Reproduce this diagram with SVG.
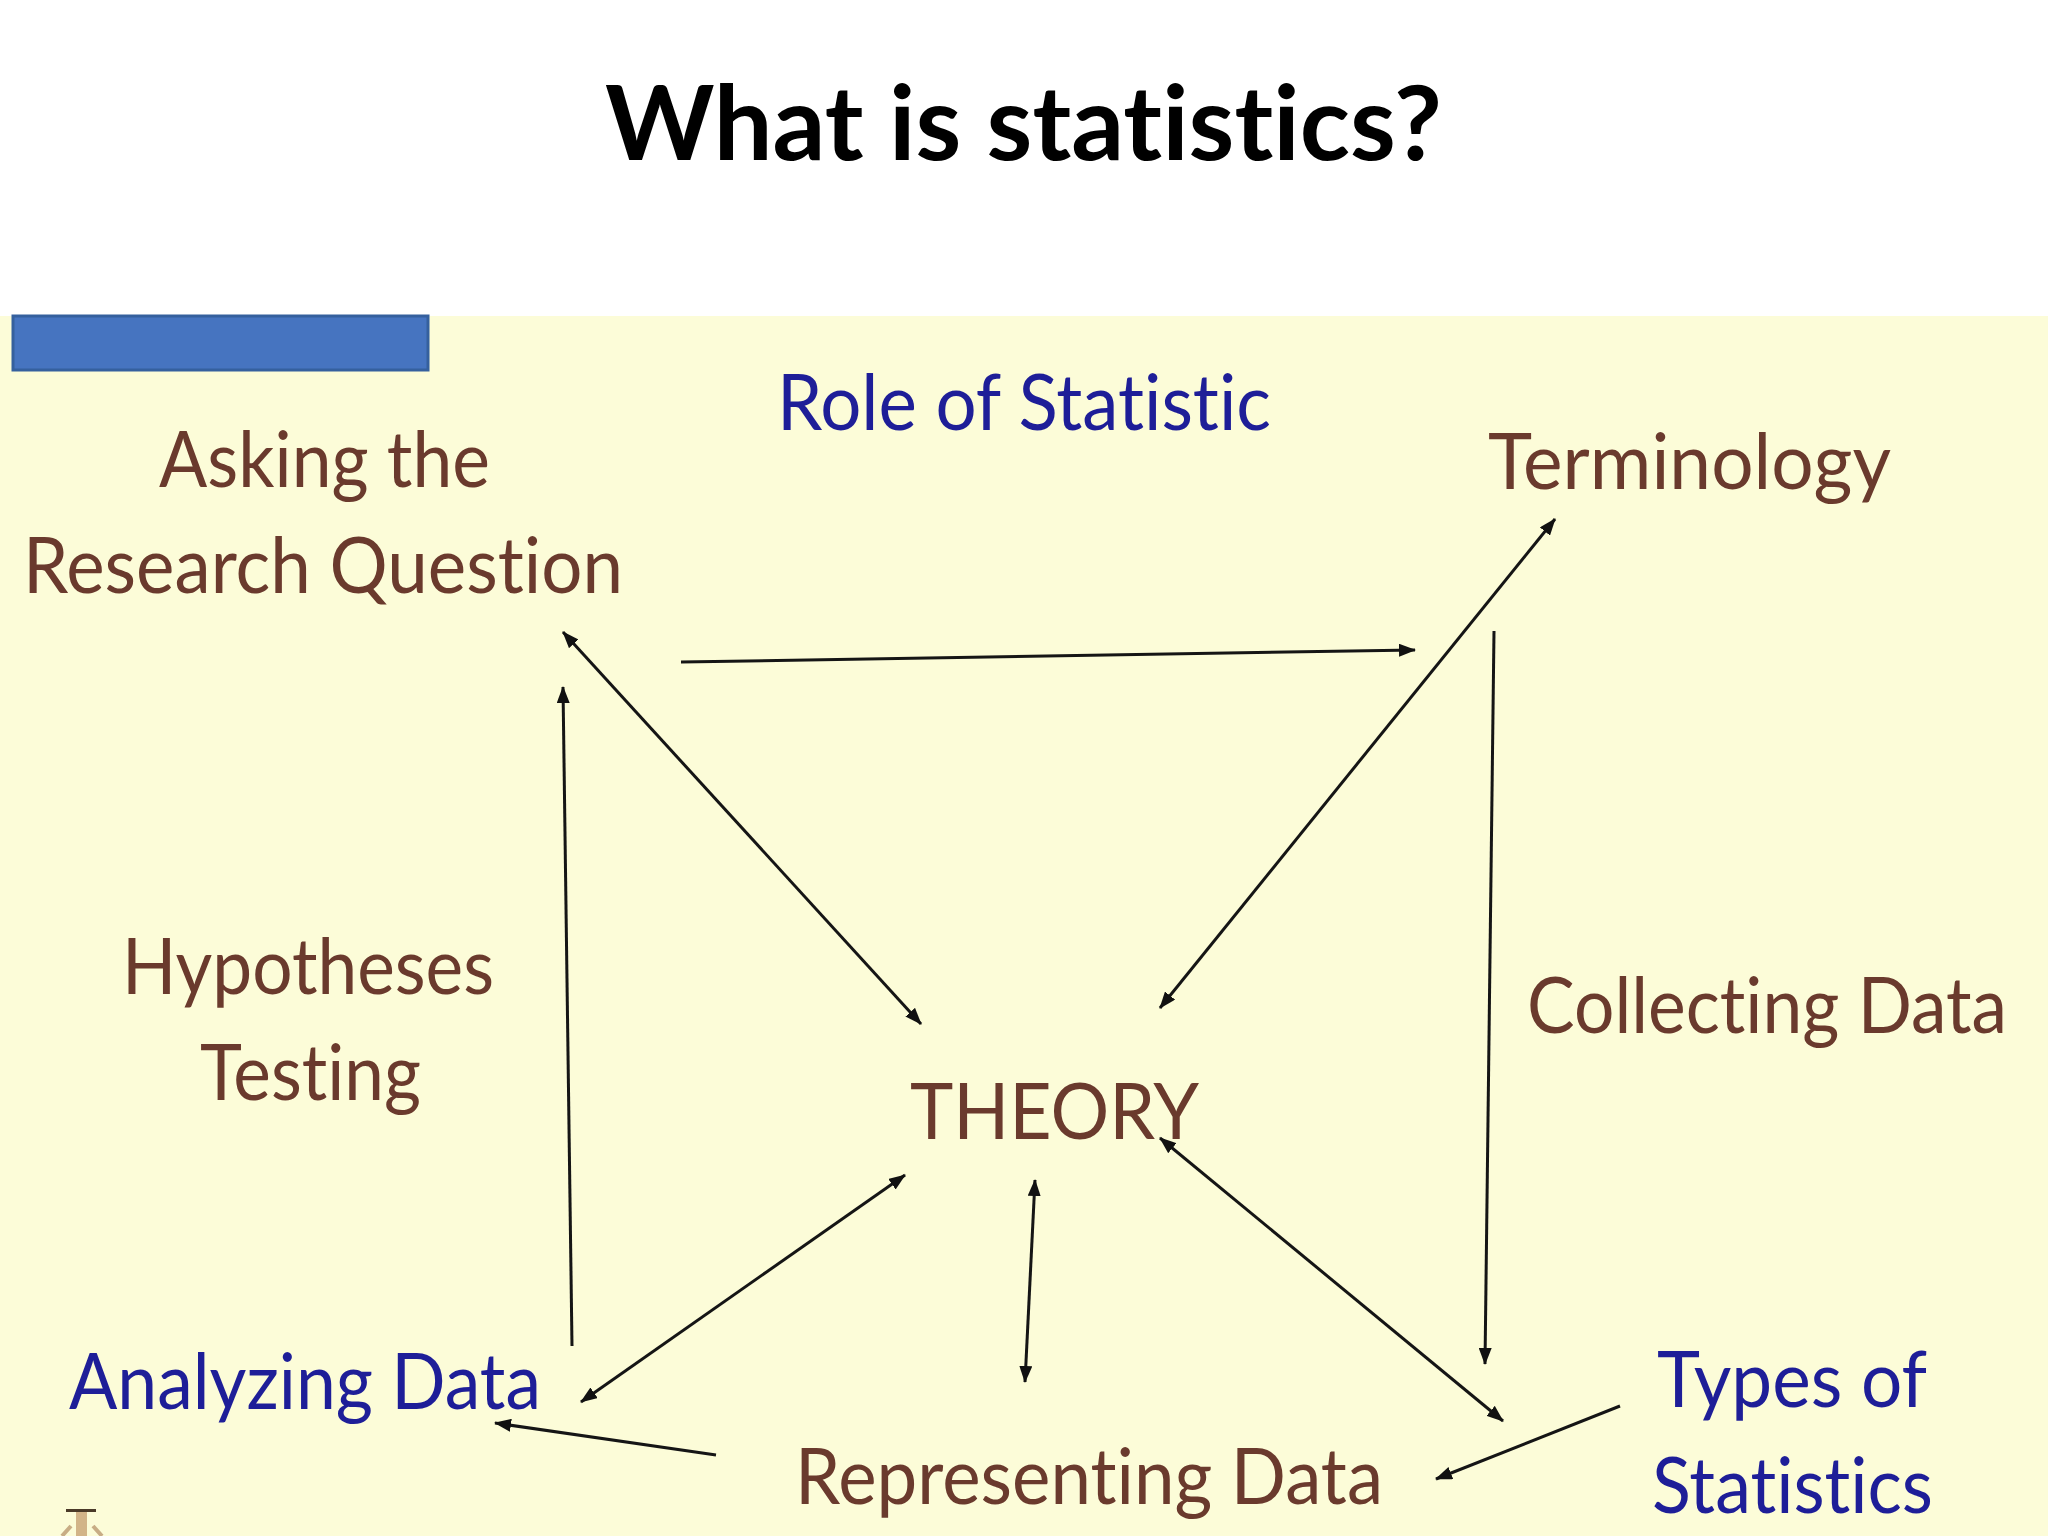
<svg xmlns="http://www.w3.org/2000/svg" width="2048" height="1536" viewBox="0 0 2048 1536">
  <defs>
    <marker id="ah" markerUnits="userSpaceOnUse" markerWidth="17" markerHeight="13" refX="16" refY="6.5" orient="auto-start-reverse">
      <path d="M0,0 L17,6.5 L0,13 z" fill="#111"/>
    </marker>
    <style>
      text { font-variant-ligatures: none; font-feature-settings: "liga" 0, "clig" 0; }
      .lbl { font-family: Lato, "Open Sans", "Liberation Sans", sans-serif; font-size: 77px; }
      .brown { fill: #6a3a2d; }
      .blue { fill: #1e1e98; }
      .conn { stroke: #151515; stroke-width: 3; fill: none; }
    </style>
  </defs>

  <rect x="0" y="0" width="2048" height="1536" fill="#ffffff"/>
  <rect x="0" y="316" width="2048" height="1220" fill="#fcfcd8"/>

  <g id="title">
    <text x="605" y="160" textLength="837" lengthAdjust="spacingAndGlyphs" font-family="Lato, 'Open Sans', 'Liberation Sans', sans-serif" font-weight="bold" font-size="104" fill="#000">What is statistics?</text>
  </g>

  <g id="header-bar">
    <rect x="13" y="316" width="415" height="54" fill="#4674c0" stroke="#35609e" stroke-width="3"/>
  </g>

  <g id="connectors">
    <line class="conn" x1="681" y1="662" x2="1415" y2="650" marker-end="url(#ah)"/>
    <line class="conn" x1="563" y1="632" x2="921" y2="1024" marker-start="url(#ah)" marker-end="url(#ah)"/>
    <line class="conn" x1="1555" y1="519" x2="1160" y2="1008" marker-start="url(#ah)" marker-end="url(#ah)"/>
    <line class="conn" x1="1494" y1="631" x2="1485" y2="1364" marker-end="url(#ah)"/>
    <line class="conn" x1="572" y1="1346" x2="563" y2="687" marker-end="url(#ah)"/>
    <line class="conn" x1="581" y1="1402" x2="905" y2="1175" marker-start="url(#ah)" marker-end="url(#ah)"/>
    <line class="conn" x1="1035" y1="1180" x2="1025" y2="1382" marker-start="url(#ah)" marker-end="url(#ah)"/>
    <line class="conn" x1="1160" y1="1138" x2="1503" y2="1421" marker-start="url(#ah)" marker-end="url(#ah)"/>
    <line class="conn" x1="1620" y1="1406" x2="1436" y2="1479" marker-end="url(#ah)"/>
    <line class="conn" x1="716" y1="1455" x2="495" y2="1423" marker-end="url(#ah)"/>
  </g>

  <g id="node-asking">
    <text class="lbl brown" x="159" y="487" textLength="331" lengthAdjust="spacingAndGlyphs">Asking the</text>
    <text class="lbl brown" x="23" y="593" textLength="600" lengthAdjust="spacingAndGlyphs">Research Question</text>
  </g>

  <g id="node-role">
    <text class="lbl blue" x="777" y="430" textLength="494" lengthAdjust="spacingAndGlyphs">Role of Statistic</text>
  </g>

  <g id="node-terminology">
    <text class="lbl brown" x="1488" y="489" textLength="403" lengthAdjust="spacingAndGlyphs">Terminology</text>
  </g>

  <g id="node-hypotheses">
    <text class="lbl brown" x="122" y="994" textLength="372" lengthAdjust="spacingAndGlyphs">Hypotheses</text>
    <text class="lbl brown" x="200" y="1100" textLength="221" lengthAdjust="spacingAndGlyphs">Testing</text>
  </g>

  <g id="node-collecting">
    <text class="lbl brown" x="1527" y="1033" textLength="480" lengthAdjust="spacingAndGlyphs">Collecting Data</text>
  </g>

  <g id="node-theory">
    <text class="lbl brown" x="910" y="1139" font-size="90" textLength="289" lengthAdjust="spacingAndGlyphs">THEORY</text>
  </g>

  <g id="node-analyzing">
    <text class="lbl blue" x="69" y="1409" textLength="472" lengthAdjust="spacingAndGlyphs">Analyzing Data</text>
  </g>

  <g id="node-representing">
    <text class="lbl brown" x="795" y="1504" textLength="588" lengthAdjust="spacingAndGlyphs">Representing Data</text>
  </g>

  <g id="node-types">
    <text class="lbl blue" x="1657" y="1407" textLength="270" lengthAdjust="spacingAndGlyphs">Types of</text>
    <text class="lbl blue" x="1652" y="1513" textLength="281" lengthAdjust="spacingAndGlyphs">Statistics</text>
  </g>

  <g id="corner-icon">
    <rect x="66" y="1509" width="30" height="3" fill="#4a3a28"/>
    <rect x="76" y="1512" width="11" height="24" fill="#d2b488"/>
    <path d="M62,1536 L71,1526 M102,1536 L93,1526" stroke="#c8ad85" stroke-width="4"/>
  </g>
</svg>
